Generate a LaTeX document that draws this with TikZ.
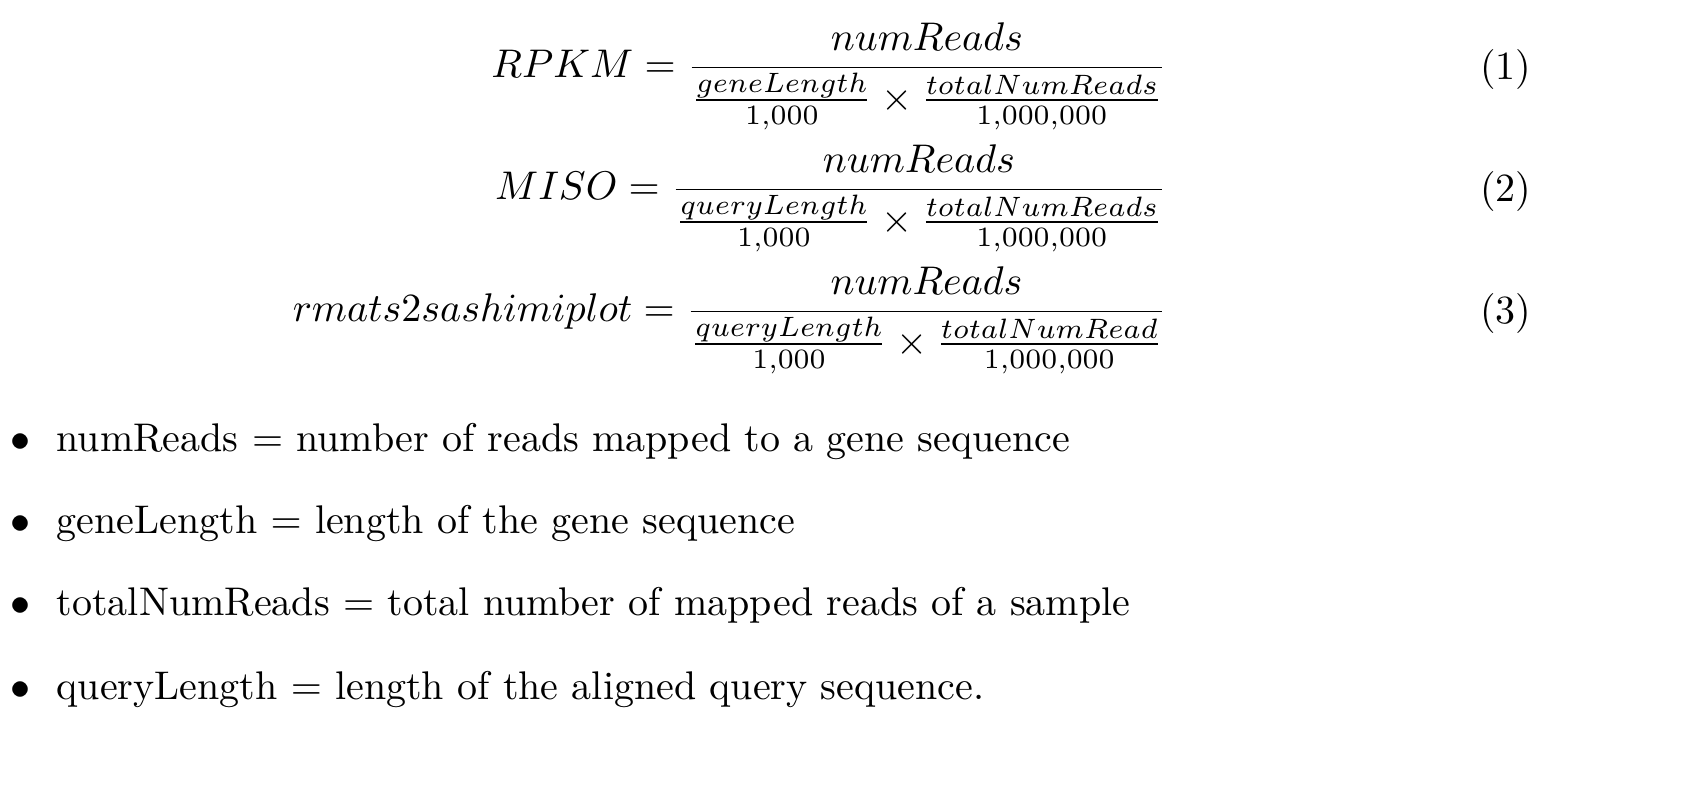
\documentclass[tikz,border=0pt]{standalone}
\usepackage{amsmath}
\begin{document}
\begin{tikzpicture}[x=1pt,y=-1pt,every node/.style={inner sep=0pt}]
\useasboundingbox (0,0) rectangle (420.5,197);
\tikzset{eqn/.style={anchor=east},num/.style={anchor=east},itm/.style={anchor=base west}}
\node[eqn] (e1) at (292,19) {$\displaystyle RPKM=\frac{numReads}{\frac{geneLength}{1{,}000}\times\frac{totalNumReads}{1{,}000{,}000}}$};
\node[eqn] (e2) at (292,49.5) {$\displaystyle MISO=\frac{numReads}{\frac{queryLength}{1{,}000}\times\frac{totalNumReads}{1{,}000{,}000}}$};
\node[eqn] (e3) at (292,80) {$\displaystyle rmats2sashimiplot=\frac{numReads}{\frac{queryLength}{1{,}000}\times\frac{totalNumRead}{1{,}000{,}000}}$};
\node[num] (n1) at (383,17.5) {(1)};
\node[num] (n2) at (383,48) {(2)};
\node[num] (n3) at (383,78.5) {(3)};
\node[itm] (b1) at (2.5,113) {$\bullet$\hspace{6.5pt}numReads $=$ number of reads mapped to a gene sequence};
\node[itm] (b2) at (2.5,133.5) {$\bullet$\hspace{6.5pt}geneLength $=$ length of the gene sequence};
\node[itm] (b3) at (2.5,154) {$\bullet$\hspace{6.5pt}totalNumReads $=$ total number of mapped reads of a sample};
\node[itm] (b4) at (2.5,175) {$\bullet$\hspace{6.5pt}queryLength $=$ length of the aligned query sequence.};
\end{tikzpicture}
\end{document}
